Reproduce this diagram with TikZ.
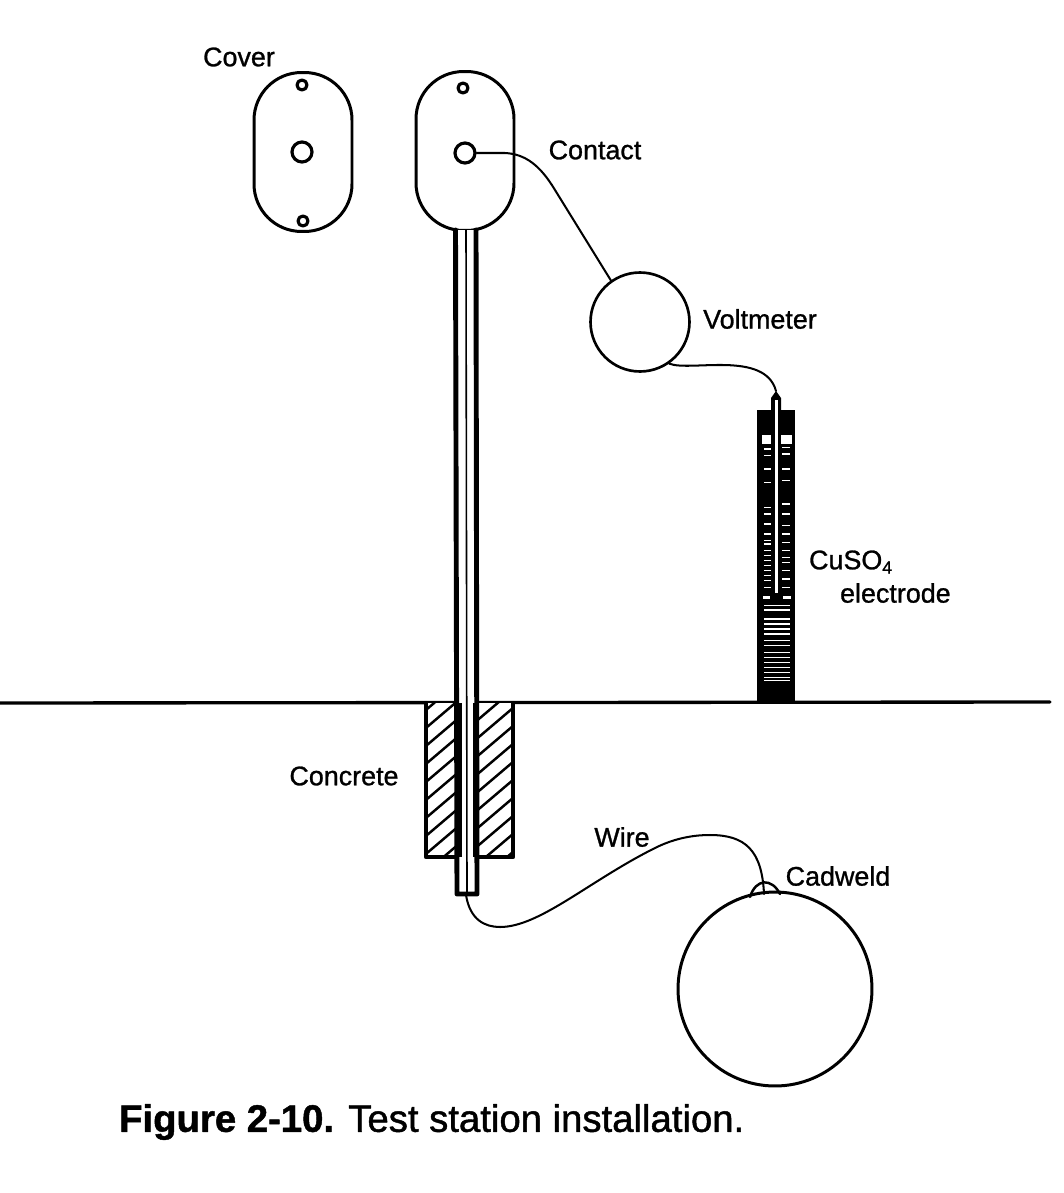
\documentclass[tikz,border=0pt]{standalone}
\usepackage{fontspec}
\setmainfont{Liberation Sans}
\newfontfamily\heavyfont{Liberation Sans}[FakeBold=1]
\newfontfamily\capfont{Liberation Sans}[FakeBold=1.2]
\newfontfamily\capbold{Liberation Sans Bold}[FakeBold=1.2]
\begin{document}
\begin{tikzpicture}[x=0.02cm, y=-0.02cm, line cap=round, line join=round,
    pill/.style={draw, line width=1.7pt, minimum width=1.96cm, minimum height=3.18cm, rounded corners=0.95cm, inner sep=0pt},
    hole/.style={circle, draw, line width=1.8pt, inner sep=0pt},
    meter/.style={circle, draw, line width=1.5pt, inner sep=0pt, minimum size=1.98cm},
    tank/.style={circle, draw, line width=1.7pt, inner sep=0pt, minimum size=3.88cm},
    wire/.style={line width=1.15pt},
    lab/.style={inner sep=1pt, font=\fontsize{15.3}{17}\heavyfont},
    capt/.style={inner sep=1pt, anchor=west, font=\fontsize{21.8}{24}\capfont},
    slit/.style={fill=white, draw=none}]
  \useasboundingbox (0,0) rectangle (1063,1193);
  % covers
  \node[pill] (cover) at (303,152) {};
  \node[hole, minimum size=0.2cm] (c1) at (302,85) {};
  \node[hole, minimum size=0.4cm] (c2) at (302,152) {};
  \node[hole, minimum size=0.2cm] (c3) at (303,221) {};
  \node[pill] (plate) at (465,151) {};
  \node[hole, minimum size=0.2cm] (p1) at (463,88) {};
  \node[hole, minimum size=0.4cm] (p2) at (465,153) {};
  % ground
  \coordinate (g1) at (0,703);
  \coordinate (g2) at (1050,702);
  \draw[line width=1.9pt] (g1) -- (g2);
  % concrete
  \fill[white] (425,703) rectangle (513,857);
  \begin{scope}
    \clip (425,703) rectangle (513,857);
    \foreach \y in {715,733,...,985}
      \draw[line width=1.4pt] (420,\y) -- (520,\y-85);
  \end{scope}
  \draw[line width=2.4pt] (426,703) -- (426,857) -- (513,857) -- (513,703);
  % pipe
  \fill[white] (455,230) rectangle (478,893);
  \draw[line width=2.8pt] (455.5,230) -- (457,894) -- (477,894) -- (476,230);
  \fill[black] (455,703) rectangle (462,857);
  \fill[black] (473,703) rectangle (479,857);
  \draw[line width=0.9pt] (466,230) -- (467,893);
  % electrode
  \fill[black] (757,410) rectangle (795,702);
  \fill[black] (771,411) -- (771,398) -- (776,391) -- (781,398) -- (781,411) -- cycle;
  \fill[white] (775,400) rectangle (778,593);
  \fill[slit] (762,435) rectangle (771,444);
  \fill[slit] (781,435) rectangle (792,444);
  \foreach \z in {235,255,295,335,410,430,460,490,510,520,540,555,570,585,600,615,630,650}
    \fill[slit] (764,370+\z/3) rectangle (771,371.2+\z/3);
  \foreach \z in {230,250,295,330,400,430,465,490,515,540,560,575,600,625,650}
    \fill[slit] (782,370+\z/3) rectangle (790,371.2+\z/3);
  \fill[slit] (763,596) rectangle (770,599);
  \fill[slit] (783,596) rectangle (791,599);
  \foreach \z in {705,718,745,760,775,790,810,825,845,860,875,890,905,920,930}
    \fill[slit] (764,370+\z/3) rectangle (790,371.3+\z/3);
  % meter
  \node[meter] (volt) at (640,322) {};
  \draw[wire] (p2.east) -- (505,153) .. controls (525,154) and (540,165) .. (555,190) -- (volt.125);
  \coordinate (top) at (776,391);
  \draw[wire] (volt.-55) .. controls (690,372) and (765,350) .. (top);
  % tank
  \node[tank] (tank) at (775,989) {};
  \coordinate (weld) at (764,894);
  \coordinate (end) at (466,895);
  \draw[line width=1.4pt] (750,897) .. controls (756,878) and (772,878) .. (780,894);
  \draw[wire] (end) .. controls (470,920) and (485,927) .. (500,927)
    .. controls (540,927) and (590,880) .. (657,847)
    .. controls (680,836) and (700,835) .. (710,835)
    .. controls (745,835) and (762,850) .. (weld);
  % labels
  \node[lab] (tcover) at (239,57) {Cover};
  \node[lab] (tcontact) at (595,150) {Contact};
  \node[lab] (tvolt) at (760,319) {Voltmeter};
  \node[lab, anchor=west] (tcu) at (807,562) {CuSO\raisebox{-0.3ex}{\fontsize{10}{11}\selectfont 4}};
  \node[lab, anchor=west] (telec) at (838,593) {electrode};
  \node[lab] (tconc) at (344,776) {Concrete};
  \node[lab] (twire) at (622,837) {Wire};
  \node[lab] (tcad) at (838,876) {Cadweld};
  \node[capt] (capt) at (117,1122) {{\capbold Figure 2-10.} Test station installation.};
\end{tikzpicture}
\end{document}
